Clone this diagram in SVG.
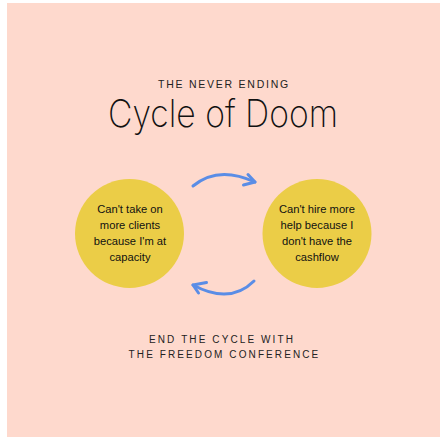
<svg xmlns="http://www.w3.org/2000/svg" width="445" height="443" viewBox="0 0 445 443">
<defs>
<style>
.cap{font-family:"Liberation Sans",Arial,sans-serif;fill:#222;text-anchor:middle}
.node circle{fill:#EBCD47}
.node text{font-family:"Liberation Sans",Arial,sans-serif;font-size:11.2px;fill:#111;text-anchor:middle}
.arr{fill:none;stroke:#5A8DE6;stroke-width:3;stroke-linecap:round;stroke-linejoin:round}
</style>
</defs>
<rect width="445" height="443" fill="#ffffff"/>
<rect x="7" y="3" width="433" height="434" fill="#FED9CD"/>
<text class="cap" x="224" y="88" font-size="10.5" letter-spacing="1.75">THE NEVER ENDING</text>
<text x="223" y="127" font-family="Inter, 'Noto Sans', sans-serif" font-weight="200" font-size="38" text-anchor="middle" fill="#111" textLength="230" lengthAdjust="spacingAndGlyphs">Cycle of Doom</text>
<g id="node-left" class="node">
<circle cx="129.5" cy="233.5" r="54.5"/>
<text x="130" y="213">Can't take on</text>
<text x="130" y="229">more clients</text>
<text x="130" y="245">because I'm at</text>
<text x="130" y="261">capacity</text>
</g>
<g id="node-right" class="node">
<circle cx="317" cy="233.5" r="54.5"/>
<text x="317" y="213">Can't hire more</text>
<text x="317" y="229">help because I</text>
<text x="317" y="245">don't have the</text>
<text x="317" y="261">cashflow</text>
</g>
<g id="connectors">
<path class="arr" d="M193,186 Q218,165 255,182"/>
<path class="arr" d="M248,174.5 L255,182 L243.5,185"/>
<path class="arr" d="M254,281 Q230,305 193,285"/>
<path class="arr" d="M206.5,282.5 L193,285 L198.5,293"/>
</g>
<text class="cap" x="222" y="343" font-size="10" letter-spacing="2.1">END THE CYCLE WITH</text>
<text class="cap" x="224.5" y="358" font-size="10" letter-spacing="2.1">THE FREEDOM CONFERENCE</text>
</svg>
